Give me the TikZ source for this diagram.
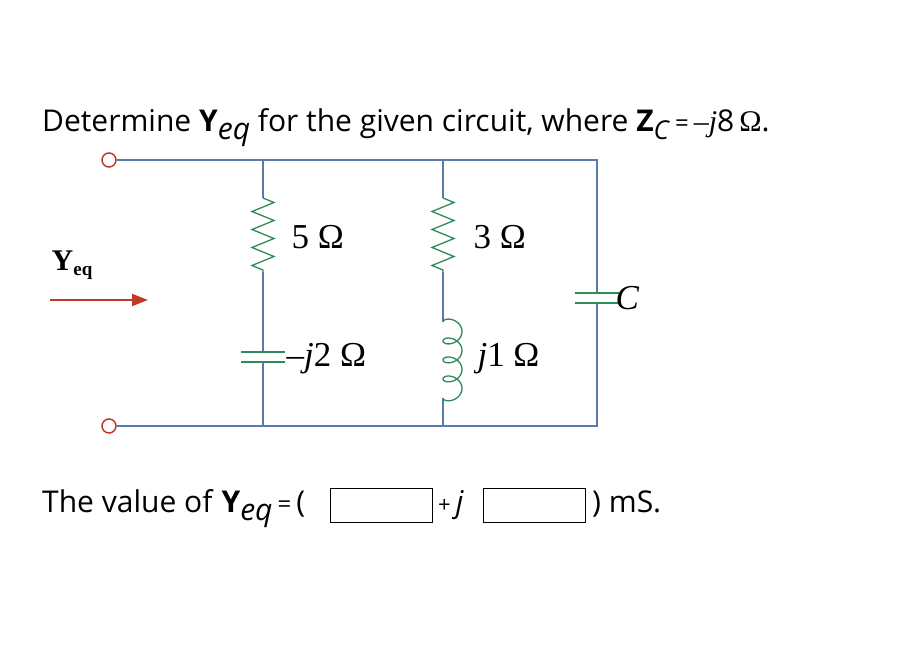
\documentclass[tikz,border=0pt]{standalone}
\usepackage{fontspec}
\setmainfont{Open Sans}
\newfontfamily\cirf{Liberation Serif}
\usetikzlibrary{decorations.pathmorphing,arrows.meta}
\definecolor{wire}{HTML}{5A7BA8}
\definecolor{comp}{HTML}{2E8B57}
\definecolor{term}{HTML}{C0392B}
\begin{document}
\begin{tikzpicture}[x=1pt,y=-1pt,
  wirest/.style={draw=wire,line width=1.3pt},
  compst/.style={draw=comp,line width=1.3pt},
  termst/.style={circle,draw=term,line width=1.5pt,minimum size=14pt,inner sep=0pt,fill=white},
  lbl/.style={font=\cirf\fontsize{35}{37}\selectfont,anchor=west},
  txt/.style={font=\fontsize{30}{34}\selectfont,anchor=base west,inner sep=0pt},
  ansbox/.style={draw,line width=0.8pt,minimum width=102pt,minimum height=34pt,inner sep=0pt}]
\useasboundingbox[fill=white] (0,0) rectangle (902,652);
\node[txt] (q) at (42,132) {Determine \textbf{Y}\raisebox{-8pt}{\textit{eq}} for the given circuit, where \textbf{Z}\raisebox{-8pt}{\fontsize{26}{28}\selectfont\textit{C}}\,{\fontsize{24}{26}\selectfont=}\,{\cirf\textendash\textit{j}}8\,{\cirf Ω}.};
% terminals
\node[termst] (t1) at (109,160) {};
\node[termst] (t2) at (109,426) {};
\coordinate (a1) at (263,160); \coordinate (a2) at (443,160); \coordinate (a3) at (597,160);
\coordinate (b1) at (263,426); \coordinate (b2) at (443,426); \coordinate (b3) at (597,426);
\draw[wirest] (t1) -- (a3) -- (597,293);
\draw[wirest] (597,303) -- (b3) -- (t2);
% left branch
\draw[wirest] (a1) -- (263,198);
\draw[compst,decorate,decoration={zigzag,segment length=18pt,amplitude=11pt}] (263,198) -- (263,272);
\draw[wirest] (263,272) -- (263,352);
\draw[compst] (241,352) -- (285,352); \draw[compst] (241,362) -- (285,362);
\draw[wirest] (263,362) -- (b1);
% middle branch
\draw[wirest] (a2) -- (443,198);
\draw[compst,decorate,decoration={zigzag,segment length=18pt,amplitude=11pt}] (443,198) -- (443,272);
\draw[wirest] (443,272) -- (443,322);
\coordinate (c1) at (443,322); \coordinate (c2) at (443,398);
\draw[compst,smooth,samples=140,domain=0:25.13] plot ({443+9.5*(1-cos(\x r))},{322+3.02*\x-7*sin(\x r)});
\draw[wirest] (c2) -- (b2);
% right capacitor
\draw[compst] (575,293) -- (619,293); \draw[compst] (575,303) -- (619,303);
% labels
\node[lbl] (l1) at (288,237) {5 Ω};
\node[lbl] (l2) at (470,237) {3 Ω};
\node[lbl] (l3) at (283,359) {\textendash\textit{j}2 Ω};
\node[lbl] (l4) at (474,359) {\textit{j}1 Ω};
\node[lbl] (l5) at (612,298) {\textit{C}};
\node[font=\cirf\bfseries\fontsize{30}{32}\selectfont] (y) at (72,265) {Y\raisebox{-5pt}{\fontsize{19}{20}\selectfont eq}};
\coordinate (ar1) at (50,300); \coordinate (ar2) at (148,300);
\draw[draw=term,line width=2.2pt,-{Triangle[length=16pt,width=12pt]}] (ar1) -- (ar2);
% answer line
\node[txt] (v) at (42,512) {The value of \textbf{Y}\raisebox{-8pt}{\textit{eq}}\,{\fontsize{24}{26}\selectfont=}\,(};
\node[ansbox] (b1x) at (381,505) {};
\node[txt] (pj) at (438,512) {{\fontsize{22}{24}\selectfont+}\,\textit{j}};
\node[ansbox] (b2x) at (534,505) {};
\node[txt] (ms) at (592,512) {) mS.};
\end{tikzpicture}
\end{document}
